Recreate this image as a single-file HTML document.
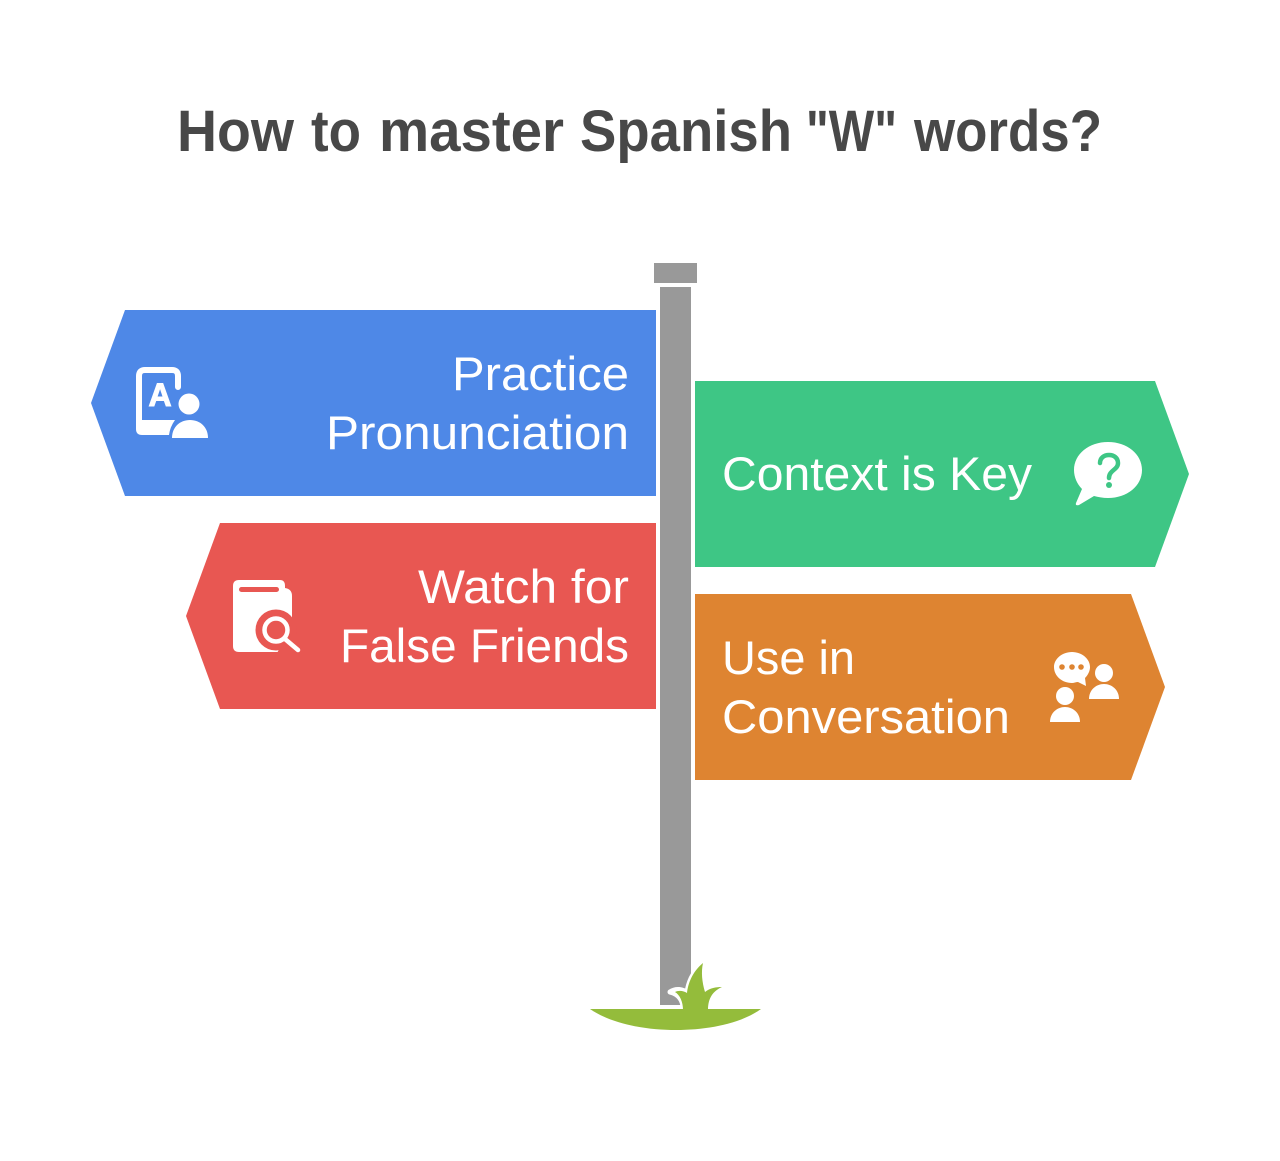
<!DOCTYPE html>
<html><head><meta charset="utf-8"><style>
html,body{margin:0;padding:0;background:#fff;width:1280px;height:1161px;overflow:hidden}
svg{display:block}
text{font-family:"Liberation Sans",sans-serif}
.l{font-size:47px;fill:#fff}
.t{font-size:58px;font-weight:700;fill:#484848}
</style></head><body>
<svg width="1280" height="1161" viewBox="0 0 1280 1161" xmlns="http://www.w3.org/2000/svg">
<rect width="1280" height="1161" fill="#fff"/>
<text class="t" x="177" y="151" textLength="117" lengthAdjust="spacingAndGlyphs">How</text>
<text class="t" x="311" y="151" textLength="50" lengthAdjust="spacingAndGlyphs">to</text>
<text class="t" x="379" y="151" textLength="185" lengthAdjust="spacingAndGlyphs">master</text>
<text class="t" x="580" y="151" textLength="212" lengthAdjust="spacingAndGlyphs">Spanish</text>
<text class="t" x="806" y="151" textLength="91" lengthAdjust="spacingAndGlyphs">"W"</text>
<text class="t" x="914" y="151" textLength="188" lengthAdjust="spacingAndGlyphs">words?</text>

<rect x="654" y="263" width="43" height="20" fill="#999"/>
<rect x="660" y="287" width="31" height="718" fill="#999"/>

<polygon points="656,310 125,310 91,403 125,496 656,496" fill="#4E88E7"/>
<polygon points="656,523 220,523 186,616 220,709 656,709" fill="#E85752"/>
<polygon points="695,381 1155,381 1189,474 1155,567 695,567" fill="#3EC685"/>
<polygon points="695,594 1131,594 1165,687 1131,780 695,780" fill="#DE8431"/>

<text class="l" x="452" y="390" textLength="177" lengthAdjust="spacingAndGlyphs">Practice</text>
<text class="l" x="326" y="449" textLength="303" lengthAdjust="spacingAndGlyphs">Pronunciation</text>
<text class="l" x="418" y="603" textLength="211" lengthAdjust="spacingAndGlyphs">Watch for</text>
<text class="l" x="340" y="662" textLength="289" lengthAdjust="spacingAndGlyphs">False Friends</text>
<text class="l" x="722" y="490" textLength="310" lengthAdjust="spacingAndGlyphs">Context is Key</text>
<text class="l" x="722" y="674" textLength="133" lengthAdjust="spacingAndGlyphs">Use in</text>
<text class="l" x="722" y="733" textLength="288" lengthAdjust="spacingAndGlyphs">Conversation</text>

<!-- pronunciation icon -->
<g fill="#fff">
<path d="M178 387V376Q178 370 172 370H145Q139 370 139 376V428" fill="none" stroke="#fff" stroke-width="6" stroke-linecap="round"/>
<path d="M136 420H175Q170 427 169 435H142Q136 435 136 429Z"/>
<circle cx="189" cy="404" r="10.5"/>
<path d="M172 438C172 427 180 420 190 420C200 420 208 427 208 438Z"/>
<text x="160" y="406" font-size="32" font-weight="700" fill="#fff" stroke="#fff" stroke-width="1" text-anchor="middle">A</text>
</g>

<!-- false friends icon -->
<path d="M239 580H280Q285 580 285 586V588Q292 589 292 596V652H239Q233 652 233 646V586Q233 580 239 580Z" fill="#fff"/>
<rect x="239" y="587" width="40" height="5" rx="2.5" fill="#E85752"/>
<polygon points="277,653 296,653 296,620" fill="#E85752"/>
<circle cx="276" cy="630" r="20.5" fill="#E85752"/>
<circle cx="276" cy="630" r="11.5" fill="#E85752" stroke="#fff" stroke-width="4.5"/>
<path d="M285 639L298 650" stroke="#fff" stroke-width="4.5" stroke-linecap="round"/>

<!-- question bubble -->
<path d="M1108 442C1127 442 1142 454 1142 470C1142 486 1127 498 1108 498C1103 498 1098 497 1094 496L1079 505Q1075 506 1076 503L1082 489C1077 484 1074 477 1074 470C1074 454 1089 442 1108 442Z" fill="#fff"/>
<path d="M1100 463C1100 458 1104 455 1109 455C1114 455 1118 458 1118 463C1118 470 1109 470 1109 478" fill="none" stroke="#3EC685" stroke-width="4.5" stroke-linecap="round"/>
<circle cx="1109" cy="485" r="3" fill="#3EC685"/>

<!-- conversation icon -->
<g fill="#fff">
<path d="M1072 652C1082 652 1090 659 1090 667C1090 671 1088 675 1085 678L1086 686L1078 682C1076 682 1074 683 1072 683C1062 683 1054 676 1054 667C1054 659 1062 652 1072 652Z"/>
<circle cx="1104" cy="673" r="9"/>
<path d="M1089 699C1089 690 1096 684 1104 684C1112 684 1119 690 1119 699Z"/>
<circle cx="1065" cy="696" r="9"/>
<path d="M1050 722C1050 713 1057 707 1065 707C1073 707 1080 713 1080 722Z"/>
</g>
<g fill="#DE8431"><circle cx="1062" cy="667" r="2.8"/><circle cx="1072" cy="667" r="2.8"/><circle cx="1081" cy="667" r="2.8"/></g>

<!-- grass -->
<path d="M670 992C676 988 683 989 687 993C688 984 692 972 703 963C701 972 702 982 705 992C710 988 716 987 722 987C713 991 708 998 708 1008H683C683 1001 679 994 670 992Z" fill="#fff" stroke="#fff" stroke-width="5" stroke-linejoin="round"/>
<path d="M590 1009C612 1024 645 1030 676 1030C707 1030 740 1024 761 1009Z" fill="#94BC3B"/>
<path d="M675 992C679 990 684 991 687 993C688 984 692 972 703 963C701 972 702 982 705 992C710 988 716 987 722 987C713 991 708 998 708 1010H683C683 1002 680 995 675 992Z" fill="#94BC3B"/>
</svg>
</body></html>
